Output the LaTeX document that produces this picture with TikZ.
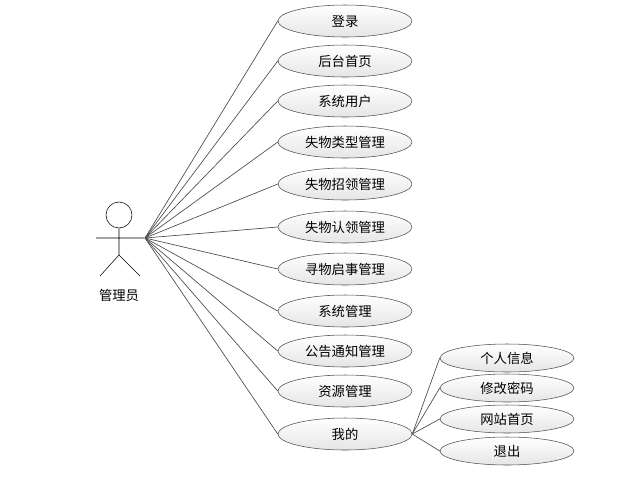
\documentclass[tikz,border=0pt]{standalone}
\usepackage{fontspec}
\setmainfont{Noto Sans CJK SC}
\usetikzlibrary{shapes.geometric}
\begin{document}
\begin{tikzpicture}[x=0.75pt,y=-0.75pt,
  uc/.style={ellipse,draw=black!70,top color=white,bottom color=black!10,minimum width=100.5pt,minimum height=24pt,inner sep=0pt,font=\fontsize{10}{12}\selectfont},
  us/.style={uc,minimum height=21pt},
  ln/.style={draw=black!70,line width=0.5pt}]
\useasboundingbox (0,0) rectangle (643,494);
% actor
\node[circle,draw,minimum size=19.5pt,inner sep=0pt] (head) at (119,215) {};
\coordinate (hip) at (119,255);
\coordinate (la) at (96,238);
\coordinate (ra) at (144,238);
\coordinate (ll) at (100,276);
\coordinate (rl) at (140,276);
\draw (head.south) -- (hip) (la) -- (ra) (hip) -- (ll) (hip) -- (rl);
\node[font=\fontsize{10}{12}\selectfont] (lbl) at (119,295) {管理员};
\coordinate (hub) at (145,238);
\foreach \n/\t/\y in {a/登录/21,b/后台首页/61,c/系统用户/101,d/失物类型管理/142,e/失物招领管理/184,f/失物认领管理/227,g/寻物启事管理/269,h/系统管理/311,i/公告通知管理/351,j/资源管理/391,k/我的/434}{
  \node[uc] (\n) at (345,\y) {\t};
  \draw[ln] (hub) -- (\n.west);
}
\foreach \n/\t/\y in {s1/个人信息/358,s2/修改密码/388,s3/网站首页/419,s4/退出/451}{
  \node[us] (\n) at (507,\y) {\t};
  \draw[ln] (k.east) -- (\n.west);
}
\end{tikzpicture}
\end{document}
